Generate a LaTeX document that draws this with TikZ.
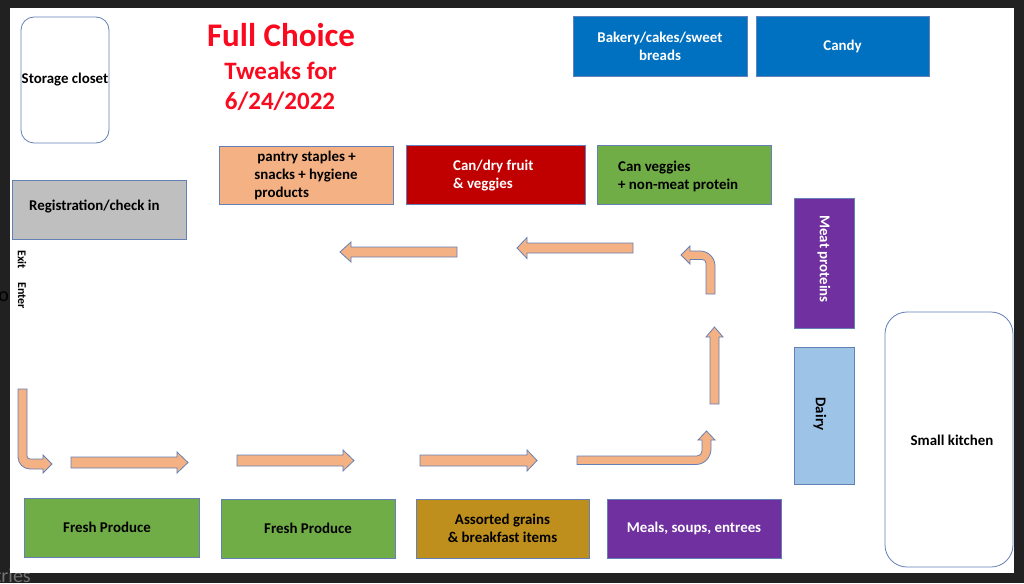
\documentclass[tikz,border=0pt]{standalone}
\usepackage{fontspec}
\setmainfont{Carlito}
\definecolor{darkbg}{RGB}{33,33,33}
\definecolor{edge}{RGB}{100,128,182}
\definecolor{peach}{RGB}{244,177,131}
\definecolor{canred}{RGB}{192,0,0}
\definecolor{leaf}{RGB}{112,173,71}
\definecolor{ocean}{RGB}{0,112,192}
\definecolor{plum}{RGB}{112,48,160}
\definecolor{sky}{RGB}{157,195,230}
\definecolor{gold}{RGB}{191,143,30}
\definecolor{silver}{RGB}{191,191,191}
\definecolor{titlered}{RGB}{250,10,30}
\newcommand{\bxfont}{\fontsize{14.9}{18}\selectfont\bfseries}
\begin{document}
\begin{tikzpicture}[x=1pt,y=-1pt,
  box/.style={draw=edge, line width=0.8pt, inner sep=0pt, font=\bxfont, align=center},
  lbl/.style={inner sep=0pt, font=\bxfont},
  blockarrow/.style={fill=peach, draw=edge, line width=0.8pt, line join=miter},
  titletxt/.style={inner sep=0pt, text=titlered, font=\bfseries, anchor=base}]
\useasboundingbox (0,0) rectangle (1024,583);
\fill[darkbg] (0,0) rectangle (1024,583);
\node[inner sep=0pt, anchor=base east, text=black, font=\fontsize{20}{20}\selectfont] (strayo) at (9,301) {o};
\node[inner sep=0pt, anchor=base east, text=black!55, font=\fontsize{20}{20}\selectfont] (straytries) at (31,582) {tries};
\fill[white] (10,8) rectangle (1014,573);

% title
\node[titletxt, font=\fontsize{33}{33}\selectfont\bfseries] (t1) at (281,47) {Full Choice};
\node[titletxt, font=\fontsize{25}{25}\selectfont\bfseries] (t2) at (280.5,80) {Tweaks for};
\node[titletxt, font=\fontsize{25}{25}\selectfont\bfseries] (t3) at (280,110) {6/24/2022};

% rooms
\node[box, fill=white, rounded corners=13pt, minimum width=88, minimum height=126] (storage) at (65,80) {Storage closet};
\node[box, fill=white, rounded corners=22pt, minimum width=128, minimum height=255] (kitchen) at (949,439.5) {};
\node[lbl] (kitchenT) at (952,440) {Small kitchen};

% top row
\node[box, fill=ocean, text=white, minimum width=174, minimum height=60] (bakery) at (660,46) {Bakery/cakes/sweet\\breads};
\node[box, fill=ocean, text=white, minimum width=173, minimum height=60] (candy) at (842.5,46) {Candy};

\node[box, fill=silver, minimum width=174, minimum height=59] (reg) at (99,209.5) {};
\node[lbl, anchor=west] (regT) at (29,207) {Registration/check in};
\node[lbl, rotate=-90, font=\fontsize{12}{12}\selectfont\bfseries] (exitT) at (22,259.5) {Exit};
\node[lbl, rotate=-90, font=\fontsize{12}{12}\selectfont\bfseries] (enterT) at (22,295.5) {Enter};

\node[box, fill=peach, minimum width=174, minimum height=58, align=left] (pantry) at (306,175) {\hspace*{3pt}pantry staples +\\snacks + hygiene\\products};
\node[box, fill=canred, minimum width=179, minimum height=59] (candry) at (495.5,174.5) {};
\node[lbl, anchor=west, text=white, align=left] (candryT) at (453,176) {Can/dry fruit\\\& veggies};
\node[box, fill=leaf, minimum width=174, minimum height=59] (canveg) at (684,174.5) {};
\node[lbl, anchor=west, align=left] (canvegT) at (618,176) {Can veggies\\+ non-meat protein};

% right column
\node[box, fill=plum, minimum width=60, minimum height=130] (meat) at (824,263) {};
\node[lbl, rotate=-90, text=white] (meatT) at (824,259) {Meat proteins};
\node[box, fill=sky, minimum width=60, minimum height=137] (dairy) at (824,415.5) {};
\node[lbl, rotate=-90] (dairyT) at (820,414) {Dairy};

% bottom row
\node[box, fill=leaf, minimum width=175, minimum height=59] (fresh1) at (111.5,527.5) {\hspace*{-9pt}Fresh Produce};
\node[box, fill=leaf, minimum width=174, minimum height=59] (fresh2) at (308,528.5) {Fresh Produce};
\node[box, fill=gold, minimum width=173, minimum height=59] (grains) at (502.5,528.5) {Assorted grains\\\& breakfast items};
\node[box, fill=plum, text=white, minimum width=174, minimum height=59] (meals) at (694,528.5) {Meals, soups, entrees};

% flow arrows
% 1: down then right
\filldraw[blockarrow] (18,389) -- (27,389) -- (27,456) .. controls (27,457.7) and (28.3,459) .. (30,459) -- (43,459) -- (43,455) -- (52,464) -- (43,473) -- (43,469) -- (30,469) .. controls (23.4,469) and (18,463.6) .. (18,457) -- cycle;
% 2-4: right
\filldraw[blockarrow] (71,457) -- (177,457) -- (177,452) -- (188,462.5) -- (177,473) -- (177,468) -- (71,468) -- cycle;
\filldraw[blockarrow] (237,455) -- (343,455) -- (343,450) -- (354,460.5) -- (343,471) -- (343,466) -- (237,466) -- cycle;
\filldraw[blockarrow] (420,455) -- (527,455) -- (527,450) -- (537,460.5) -- (527,471) -- (527,466) -- (420,466) -- cycle;
% 5: right then up
\filldraw[blockarrow] (577,456) -- (697,456) .. controls (699.8,456) and (702,453.8) .. (702,451) -- (702,440) -- (698,440) -- (706.5,431) -- (715,440) -- (711,440) -- (711,449) .. controls (711,457.3) and (704.3,464.5) .. (696,464.5) -- (577,464.5) -- cycle;
% 6: up
\filldraw[blockarrow] (710,404) -- (710,337) -- (706,337) -- (714.5,327) -- (723,337) -- (719,337) -- (719,404) -- cycle;
% 7: up then left
\filldraw[blockarrow] (706,294) -- (706,263) .. controls (706,260.8) and (704.2,259.5) .. (702,259.5) -- (690,259.5) -- (690,264) -- (681,255) -- (690,246) -- (690,251) -- (700,251) .. controls (708.3,251) and (715,257.7) .. (715,266) -- (715,294) -- cycle;
% 8-9: left
\filldraw[blockarrow] (633,243) -- (527,243) -- (527,237.5) -- (517,248) -- (527,258.5) -- (527,253) -- (633,253) -- cycle;
\filldraw[blockarrow] (457,247) -- (351,247) -- (351,242) -- (340,252) -- (351,262) -- (351,257) -- (457,257) -- cycle;
\end{tikzpicture}
\end{document}
